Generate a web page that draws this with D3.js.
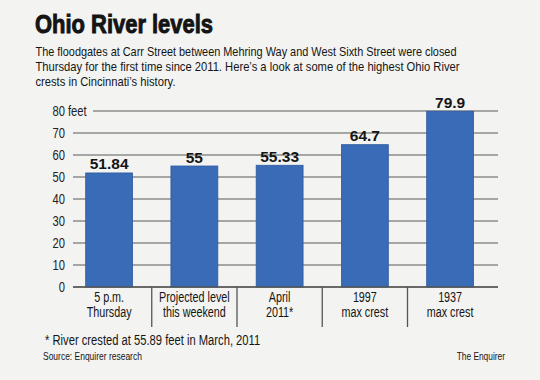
<!DOCTYPE html>
<html><head><meta charset="utf-8">
<script src="https://cdn.jsdelivr.net/npm/d3@7"></script>
<style>
html,body{margin:0;padding:0;background:#f3f3f1;}
svg{display:block;}
text{font-family:"Liberation Sans",Arial,sans-serif;fill:#151515;}
</style></head>
<body><svg id="c" width="540" height="380"></svg>
<script>
const categories = [["5 p.m.","Thursday"],["Projected level","this weekend"],["April","2011*"],["1997","max crest"],["1937","max crest"]];
const values = [51.84, 55, 55.33, 64.7, 79.9];
const valueLabels = ["51.84","55","55.33","64.7","79.9"];
const yTicks = [0,10,20,30,40,50,60,70,80];
const title = "Ohio River levels";
const subtitle = ["The floodgates at Carr Street between Mehring Way and West Sixth Street were closed",
  "Thursday for the first time since 2011. Here\u2019s a look at some of the highest Ohio River",
  "crests in Cincinnati\u2019s history."];
const footnote = "* River crested at 55.89 feet in March, 2011";
const source = "Source: Enquirer research";
const credit = "The Enquirer";

// condense text horizontally (narrow typeface look)
function condense(sel, f) {
  sel.each(function(){
    const w = this.getComputedTextLength();
    d3.select(this).attr("textLength", w*f).attr("lengthAdjust","spacingAndGlyphs");
  });
}

const svg = d3.select("#c");
svg.append("rect").attr("width",540).attr("height",380).attr("fill","#f3f3f1");

svg.append("text").attr("x",35).attr("y",33).text(title)
  .style("font-size","25px").style("font-weight","bold")
  .attr("stroke","#111").attr("stroke-width",0.9)
  .attr("textLength",178).attr("lengthAdjust","spacingAndGlyphs");
const subW = [421, 424, 140];
svg.append("g").selectAll("text").data(subtitle).join("text")
  .attr("x",35.5).attr("y",(d,i)=>55.5+i*15).text(d=>d).style("font-size","13px")
  .attr("textLength",(d,i)=>subW[i]).attr("lengthAdjust","spacingAndGlyphs");

const y = d3.scaleLinear().domain([0,80]).range([287,111]);
const x = d3.scaleBand().domain(d3.range(values.length)).range([66.5,492.75]).paddingInner(0.45).paddingOuter(0.225);

// gridlines
const grid = svg.append("g");
grid.selectAll("line").data(yTicks).join("line")
  .attr("x1",d=>d===80?93:73).attr("x2",498)
  .attr("y1",d=>y(d)).attr("y2",d=>y(d))
  .attr("stroke","#8c8c8a").attr("stroke-width",1.3);
const tl = grid.selectAll("text").data(yTicks).join("text")
  .attr("x",65).attr("y",d=>y(d)+5).attr("text-anchor","end")
  .text(d=>d).style("font-size","14px").style("fill","#222");
condense(tl, 0.8);
const ft = svg.append("text").attr("x",68).attr("y",y(80)+5).text("feet").style("font-size","14px").style("fill","#222");
condense(ft, 0.8);

// bars
svg.append("g").selectAll("rect").data(values).join("rect")
  .attr("x",(d,i)=>x(i)).attr("width",x.bandwidth())
  .attr("y",d=>y(d)).attr("height",d=>y(0)-y(d))
  .attr("fill","#3a6bb7").attr("stroke","#2f5aa0").attr("stroke-width",0.8);

svg.append("g").selectAll("text").data(values).join("text")
  .attr("x",(d,i)=>x(i)+x.bandwidth()/2).attr("y",d=>y(d)-3.5)
  .attr("text-anchor","middle").text((d,i)=>valueLabels[i])
  .style("font-size","15.5px").style("font-weight","bold");

// axis line
svg.append("line").attr("x1",73).attr("x2",498).attr("y1",y(0)).attr("y2",y(0))
  .attr("stroke","#555").attr("stroke-width",1.5);

// separators
const step = x.step();
svg.append("g").selectAll("line").data(d3.range(1,values.length)).join("line")
  .attr("x1",i=>x(i)-(step-x.bandwidth())/2).attr("x2",i=>x(i)-(step-x.bandwidth())/2)
  .attr("y1",y(0)).attr("y2",327).attr("stroke","#555").attr("stroke-width",1.3);

// category labels
const catLines = categories.flatMap((d,i)=>d.map((t,j)=>({t,i,j})));
const cl = svg.append("g").selectAll("text").data(catLines).join("text")
  .attr("text-anchor","middle").style("font-size","14px")
  .attr("x",d=>x(d.i)+x.bandwidth()/2).attr("y",d=>302+d.j*15).text(d=>d.t);
condense(cl, 0.77);

const fn = svg.append("text").attr("x",45).attr("y",345).text(footnote).style("font-size","14px");
condense(fn, 0.8);
const sr = svg.append("text").attr("x",43).attr("y",360).text(source).style("font-size","11px");
condense(sr, 0.77);
const cr = svg.append("text").attr("x",505).attr("y",360).attr("text-anchor","end").text(credit).style("font-size","11px");
condense(cr, 0.76);
</script></body></html>
